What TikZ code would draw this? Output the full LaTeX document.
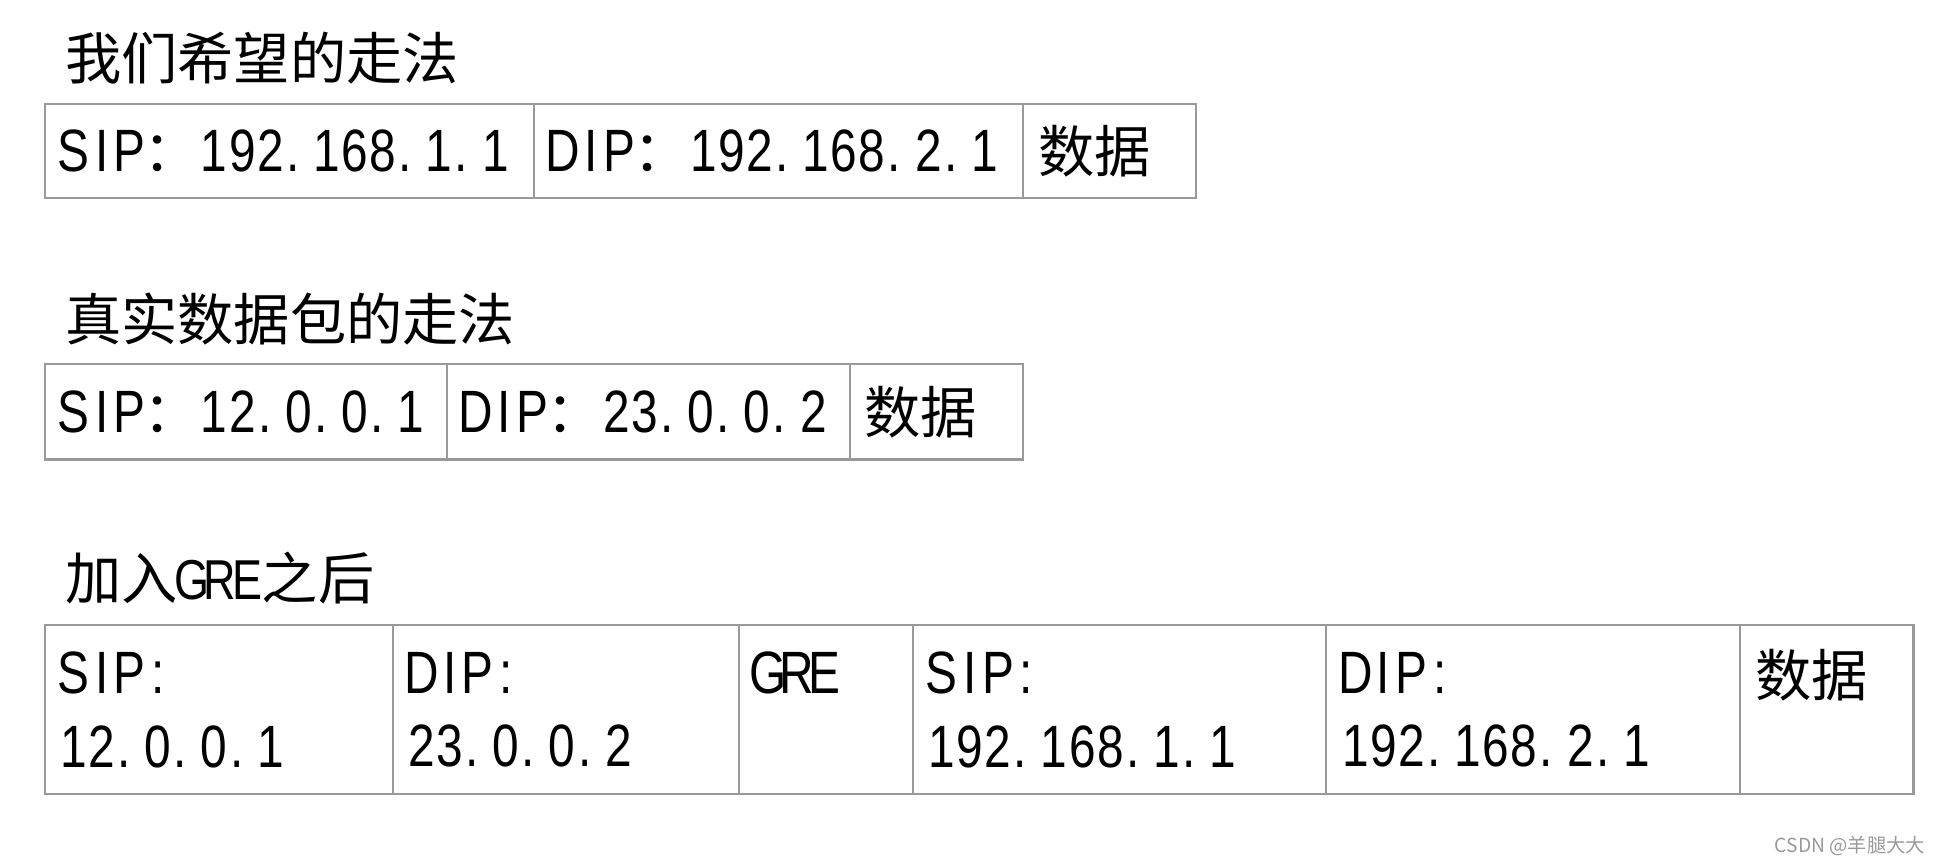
\documentclass[tikz,border=0pt]{standalone}
\usepackage{fontspec}
\setmainfont{Liberation Sans}[FakeStretch=0.8]
\newfontfamily\cjk{Noto Sans CJK SC}
\usetikzlibrary{positioning}

\definecolor{boxgray}{RGB}{153,153,153}

% half-width (monospaced) latin, as in the packet fields
\def\hwend{}
\newcommand\hw[1]{\hwloop#1\hwend}
\def\hwloop#1{\ifx#1\hwend\else
  \ifx#1.\makebox[8pt][l]{\kern0.5pt.}\else\makebox[8pt]{#1}\fi
  \expandafter\hwloop\fi}
\newcommand\zh[1]{{\cjk\fontsize{16pt}{21pt}\selectfont #1}}

\tikzset{
  cell/.style={draw=boxgray, line width=0.6pt, outer sep=0pt, inner xsep=0.15cm, inner ysep=0pt,
    align=left, anchor=north west, font=\fontsize{17pt}{21pt}\selectfont},
  title/.style={anchor=west, inner sep=0pt, font=\cjk\fontsize{16pt}{21pt}\selectfont},
  wmark/.style={anchor=east, inner sep=0pt, text=boxgray, font=\cjk\fontsize{5.5pt}{6pt}\selectfont},
}

\begin{document}
\begin{tikzpicture}
    \useasboundingbox (0,0) rectangle (19.42,-8.64);

    % what we want
    \node[title] (t1) at (0.644,-0.58) {我们希望的走法};
    \node[cell, text width=4.592cm, minimum height=0.94cm] (a1) at (0.446,-1.04) {\hw{SIP}\zh{：}\hw{192.168.1.1}};
    \node[cell, text width=4.592cm, minimum height=0.94cm, right=0pt of a1] (a2) {\hw{DIP}\zh{：}\hw{192.168.2.1}};
    \node[cell, text width=1.434cm, minimum height=0.94cm, right=0pt of a2] (a3) {\zh{数据}};

    % the real packet
    \node[title] (t2) at (0.644,-3.195) {真实数据包的走法};
    \node[cell, text width=3.724cm, minimum height=0.955cm] (b1) at (0.446,-3.64) {\hw{SIP}\zh{：}\hw{12.0.0.1}};
    \node[cell, text width=3.726cm, minimum height=0.955cm, right=0pt of b1] (b2) {\hw{DIP}\zh{：}\hw{23.0.0.2}};
    \node[cell, text width=1.434cm, minimum height=0.955cm, right=0pt of b2] (b3) {\zh{数据}};

    % with GRE
    \node[title] (t3) at (0.644,-5.784) {加入{\normalfont\hw{GRE}}之后};
    \node[cell, text width=3.18cm, minimum height=1.685cm] (c1) at (0.446,-6.254) {\hw{SIP:}\\\hw{12.0.0.1}};
    \node[cell, text width=3.168cm, minimum height=1.685cm, right=0pt of c1] (c2) {\hw{DIP:}\\\hw{23.0.0.2}};
    \node[cell, text width=1.434cm, minimum height=1.685cm, right=0pt of c2] (c3) {\hw{GRE}\\~};
    \node[cell, text width=3.836cm, minimum height=1.685cm, right=0pt of c3] (c4) {\hw{SIP:}\\\hw{192.168.1.1}};
    \node[cell, text width=3.837cm, minimum height=1.685cm, right=0pt of c4] (c5) {\hw{DIP:}\\\hw{192.168.2.1}};
    \node[cell, text width=1.434cm, minimum height=1.685cm, right=0pt of c5] (c6) {\zh{数据}\\~};

    \node[wmark] (wm) at (19.26,-8.46) {CSDN @羊腿大大};
\end{tikzpicture}
\end{document}
